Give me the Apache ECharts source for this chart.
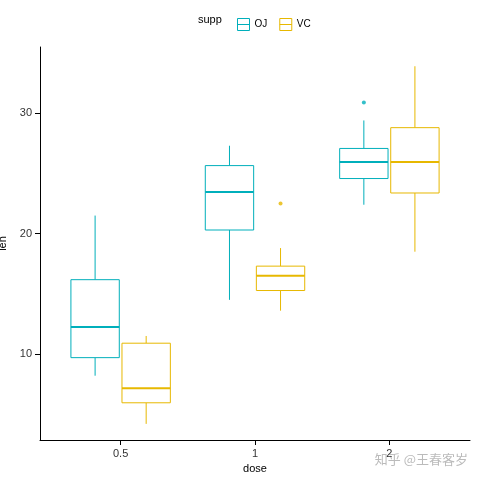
<!DOCTYPE html>
<html><head><meta charset="utf-8">
<script src="https://cdn.jsdelivr.net/npm/echarts@6/dist/echarts.min.js"></script>
<style>html,body{margin:0;background:#fff}#c{width:480px;height:480px}</style>
</head><body><div id="c"></div>
<script>
const doses = ["0.5", "1", "2"];
// [min, q1, median, q3, max]
const ojBoxes = [[8.2, 9.7, 12.25, 16.175, 21.5], [14.5, 20.3, 23.45, 25.65, 27.3], [22.4, 24.575, 25.95, 27.075, 29.4]];
const vcBoxes = [[4.2, 5.95, 7.15, 10.9, 11.5], [13.6, 15.275, 16.5, 17.3, 18.8], [18.5, 23.375, 25.95, 28.8, 33.9]];
const ojOutliers = [[3, 30.9]];
const vcOutliers = [[2, 22.5]];
const colors = { OJ: "#00AFBB", VC: "#E7B800" };
const offset = 0.19, halfW = 0.18;

const chart = echarts.init(document.getElementById("c"));

function boxSeries(name, boxes, shift) {
  return {
    name, type: "custom", color: colors[name],
    data: boxes.map((b, i) => [i + 1 + shift, ...b]),
    renderItem(params, api) {
      const x = api.value(0);
      const p = (v) => api.coord([x, v]);
      const l = api.coord([x - halfW, 0])[0], r = api.coord([x + halfW, 0])[0];
      const [cx] = p(0);
      const yMin = p(api.value(1))[1], q1 = p(api.value(2))[1], med = p(api.value(3))[1], q3 = p(api.value(4))[1], yMax = p(api.value(5))[1];
      const st = { stroke: colors[name], lineWidth: 1, fill: null };
      return {
        type: "group", children: [
          { type: "line", shape: { x1: cx, y1: yMin, x2: cx, y2: q1 }, style: st },
          { type: "line", shape: { x1: cx, y1: q3, x2: cx, y2: yMax }, style: st },
          { type: "rect", shape: { x: l, y: q3, width: r - l, height: q1 - q3 }, style: { stroke: colors[name], fill: "#fff", lineWidth: 1 } },
          { type: "line", shape: { x1: l, y1: med, x2: r, y2: med }, style: { stroke: colors[name], lineWidth: 2 } },
        ],
      };
    },
  };
}

const boxIcon = "path://M0,0 L20,0 L20,20 L0,20 Z M0,10 L20,10";

chart.setOption({
  animation: false,
  textStyle: { fontFamily: "Arial, Liberation Sans, sans-serif" },
  legend: {
    top: 13, left: 232, itemWidth: 12, itemHeight: 12, itemGap: 12,
    textStyle: { color: "#000", fontSize: 10 },
    data: [
      { name: "OJ", icon: boxIcon, itemStyle: { color: "#fff", borderColor: colors.OJ, borderWidth: 1 } },
      { name: "VC", icon: boxIcon, itemStyle: { color: "#fff", borderColor: colors.VC, borderWidth: 1 } },
    ],
  },
  graphic: [
    { type: "text", left: 198, top: 14, style: { text: "supp", fontSize: 11, fill: "#000" } },
    { type: "text", right: 12, bottom: 14, style: { text: "知乎 @王春客岁", fontSize: 13, fill: "#bbb", fontFamily: "Noto Sans CJK SC" } },
  ],
  grid: { left: 40, right: 10, top: 47, bottom: 40, containLabel: false, outerBoundsMode: "none" },
  xAxis: {
    type: "value", min: 0.4, max: 3.6,
    name: "dose", nameLocation: "middle", nameGap: 22, nameTextStyle: { color: "#000", fontSize: 11 },
    axisLine: { lineStyle: { color: "#000" } },
    axisTick: { show: true, customValues: [1, 2, 3], lineStyle: { color: "#000" } },
    axisLabel: { customValues: [1, 2, 3], formatter: (v) => doses[Math.round(v) - 1], color: "#333", fontSize: 11 },
    splitLine: { show: false },
  },
  yAxis: {
    type: "value", min: 2.86, max: 35.5,
    name: "len", nameLocation: "middle", nameGap: 26, nameTextStyle: { color: "#000", fontSize: 11 },
    axisLine: { show: true, lineStyle: { color: "#000" } },
    axisTick: { show: true, customValues: [10, 20, 30], lineStyle: { color: "#000" } },
    axisLabel: { customValues: [10, 20, 30], color: "#333", fontSize: 11 },
    splitLine: { show: false },
  },
  series: [
    boxSeries("OJ", ojBoxes, -offset),
    boxSeries("VC", vcBoxes, offset),
    { name: "OJ", type: "scatter", symbolSize: 4, itemStyle: { color: colors.OJ }, data: ojOutliers.map(([i, v]) => [i - offset, v]) },
    { name: "VC", type: "scatter", symbolSize: 4, itemStyle: { color: colors.VC }, data: vcOutliers.map(([i, v]) => [i + offset, v]) },
  ],
});
</script></body></html>
